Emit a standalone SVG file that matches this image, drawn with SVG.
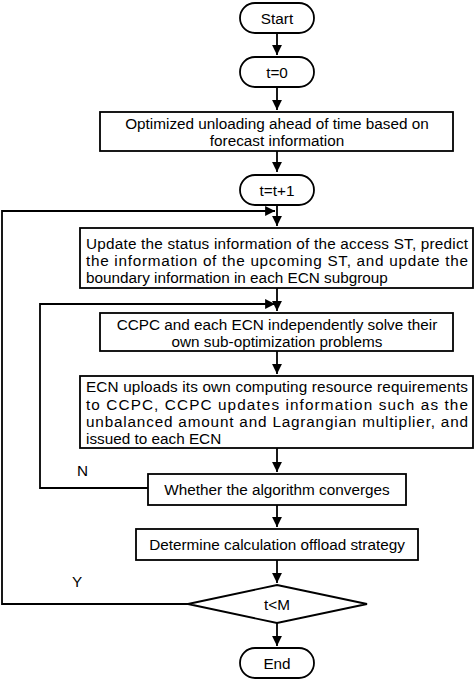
<svg xmlns="http://www.w3.org/2000/svg" width="474" height="680" viewBox="0 0 474 680">
<style>
.s{fill:#fff;stroke:#000;stroke-width:1.8}
.t{font-family:"Liberation Sans",Arial,sans-serif;font-size:15.3px;fill:#000}
.m{text-anchor:middle}
.c{fill:none;stroke:#000;stroke-width:1.8}
</style>
<defs>
<marker id="a" viewBox="0 0 10 10" refX="10" refY="5" markerWidth="5.5" markerHeight="5.5" markerUnits="strokeWidth" orient="auto">
<path d="M0,0L10,5L0,10z" fill="#000"/>
</marker>
</defs>
<rect width="474" height="680" fill="#fff"/>
<g id="connectors">
<line class="c" x1="277" y1="33" x2="277" y2="55" marker-end="url(#a)"/>
<line class="c" x1="277" y1="87" x2="277" y2="110" marker-end="url(#a)"/>
<line class="c" x1="277" y1="151" x2="277" y2="172" marker-end="url(#a)"/>
<line class="c" x1="277" y1="205" x2="277" y2="226" marker-end="url(#a)"/>
<line class="c" x1="277" y1="288" x2="277" y2="311" marker-end="url(#a)"/>
<line class="c" x1="277" y1="351" x2="277" y2="374" marker-end="url(#a)"/>
<line class="c" x1="277" y1="448" x2="277" y2="472" marker-end="url(#a)"/>
<line class="c" x1="277" y1="505" x2="277" y2="527" marker-end="url(#a)"/>
<line class="c" x1="277" y1="560" x2="277" y2="583" marker-end="url(#a)"/>
<line class="c" x1="277" y1="623" x2="277" y2="646" marker-end="url(#a)"/>
<polyline class="c" points="148,488 40,488 40,304 275,304" marker-end="url(#a)"/>
<polyline class="c" points="188,604 2,604 2,211 275,211" marker-end="url(#a)"/>
<text class="t" x="77" y="476">N</text>
<text class="t" x="72" y="587">Y</text>
</g>
<g id="start"><rect class="s" x="240" y="3" width="74" height="30" rx="15"/><text class="t m" x="277" y="23.5">Start</text></g>
<g id="t0"><rect class="s" x="240" y="57" width="74" height="30" rx="15"/><text class="t m" x="277" y="77.5">t=0</text></g>
<g id="forecast"><rect class="s" x="100" y="112" width="353" height="39"/>
<text class="t m" x="277" y="128.5">Optimized unloading ahead of time based on</text>
<text class="t m" x="277" y="145.5">forecast information</text></g>
<g id="tinc"><rect class="s" x="240" y="175" width="74" height="30" rx="15"/><text class="t m" x="277" y="195.5">t=t+1</text></g>
<g id="update"><rect class="s" x="80" y="228" width="393" height="60"/>
<text class="t" x="86" y="248.5" textLength="382" lengthAdjust="spacing">Update the status information of the access ST, predict</text>
<text class="t" x="86" y="265.5" textLength="382" lengthAdjust="spacing">the information of the upcoming ST, and update the</text>
<text class="t" x="86" y="282.5">boundary information in each ECN subgroup</text></g>
<g id="solve"><rect class="s" x="100" y="313" width="353" height="38"/>
<text class="t m" x="277" y="329.5">CCPC and each ECN independently solve their</text>
<text class="t m" x="277" y="346.5">own sub-optimization problems</text></g>
<g id="upload"><rect class="s" x="80" y="376" width="393" height="72"/>
<text class="t" x="86" y="392" textLength="382" lengthAdjust="spacing">ECN uploads its own computing resource requirements</text>
<text class="t" x="86" y="409.5" textLength="382" lengthAdjust="spacing">to CCPC, CCPC updates information such as the</text>
<text class="t" x="86" y="426.5" textLength="382" lengthAdjust="spacing">unbalanced amount and Lagrangian multiplier, and</text>
<text class="t" x="86" y="443.5">issued to each ECN</text></g>
<g id="converge"><rect class="s" x="148" y="474" width="258" height="31"/>
<text class="t m" x="277" y="495">Whether the algorithm converges</text></g>
<g id="determine"><rect class="s" x="136" y="529" width="282" height="31"/>
<text class="t m" x="277" y="550">Determine calculation offload strategy</text></g>
<g id="tm"><polygon class="s" points="277,585 367,604 277,623 188,604"/>
<text class="t m" x="277" y="609.5">t&lt;M</text></g>
<g id="end"><rect class="s" x="240" y="648" width="74" height="30" rx="15"/><text class="t m" x="277" y="668.5">End</text></g>
</svg>
